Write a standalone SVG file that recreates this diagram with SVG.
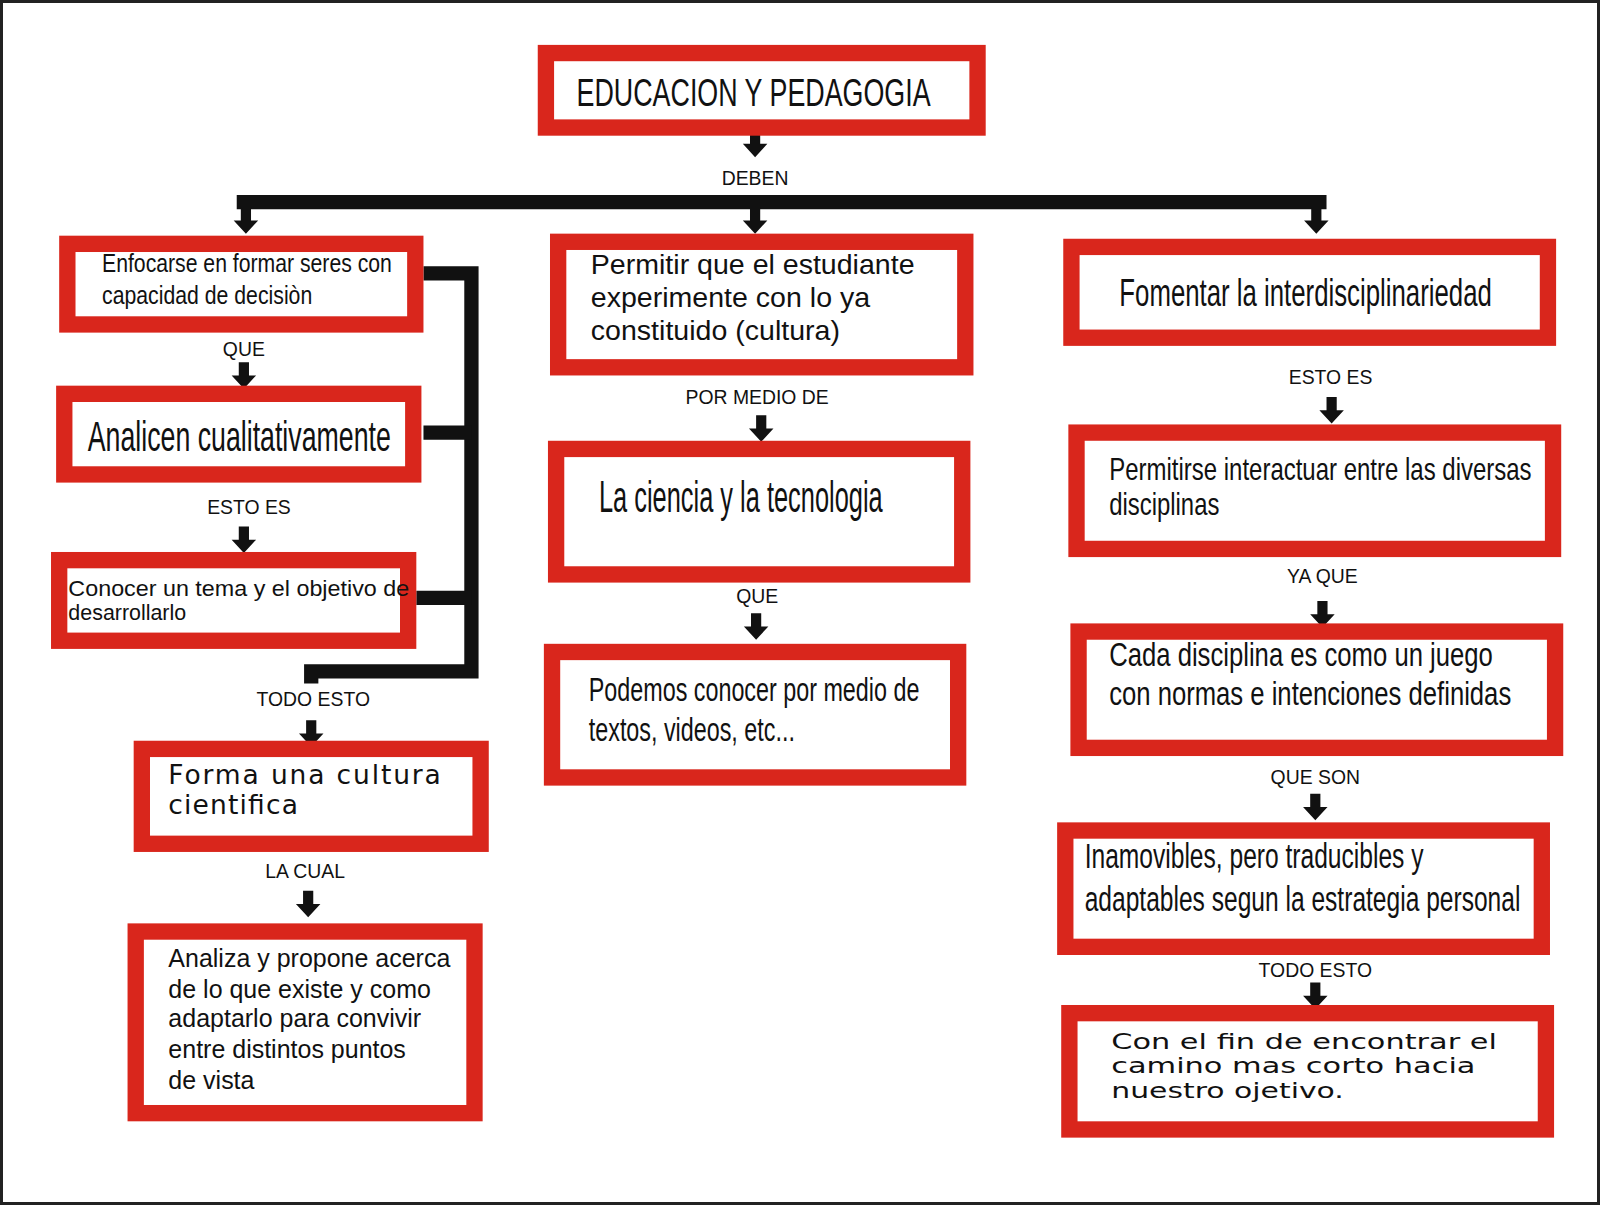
<svg xmlns="http://www.w3.org/2000/svg" xmlns:xlink="http://www.w3.org/1999/xlink" width="1600" height="1205" viewBox="0 0 1600 1205">
<style>
.box{fill:#fff;stroke:#d9261c;stroke-width:16}
.t{font-family:"Liberation Sans",Arial,sans-serif;fill:#111}
.lbl{font-family:"Liberation Sans",Arial,sans-serif;font-size:19px;fill:#111;text-anchor:middle}
.w{font-family:"DejaVu Sans",Verdana,sans-serif;fill:#111}
.ln{fill:none;stroke:#111;stroke-width:14}
</style>
<defs>
<path id="arr" d="M-5,0 H5 V13 H12 L0,26 L-12,13 H-5 Z" fill="#111"/>
</defs>
<rect x="0" y="0" width="1600" height="1205" fill="#fff"/>
<rect x="1.5" y="1.5" width="1597" height="1202" fill="none" stroke="#222" stroke-width="3"/>
<g transform="scale(1.0204,1.0203)">
<g id="connectors">
<polyline class="ln" points="232,198 1300,198"/>
<polyline class="ln" points="415,268 462,268 462,658 305,658 305,670"/>
<line class="ln" x1="415" y1="424" x2="462" y2="424"/>
<line class="ln" x1="408" y1="586" x2="462" y2="586"/>
<use href="#arr" x="740" y="128"/>
<use href="#arr" x="241" y="203"/>
<use href="#arr" x="740" y="203"/>
<use href="#arr" x="1290" y="203"/>
<use href="#arr" x="239" y="355"/>
<use href="#arr" x="239" y="516"/>
<use href="#arr" x="305" y="706"/>
<use href="#arr" x="302" y="873"/>
<use href="#arr" x="746" y="407"/>
<use href="#arr" x="741" y="601"/>
<use href="#arr" x="1305" y="389"/>
<use href="#arr" x="1296" y="589"/>
<use href="#arr" x="1289" y="778"/>
<use href="#arr" x="1289" y="963"/>
<text class="lbl" x="740" y="181">DEBEN</text>
<text class="lbl" x="239" y="349">QUE</text>
<text class="lbl" x="244" y="504">ESTO ES</text>
<text class="lbl" x="307" y="692">TODO ESTO</text>
<text class="lbl" x="299" y="861">LA CUAL</text>
<text class="lbl" x="742" y="396">POR MEDIO DE</text>
<text class="lbl" x="742" y="591">QUE</text>
<text class="lbl" x="1304" y="376">ESTO ES</text>
<text class="lbl" x="1296" y="571">YA QUE</text>
<text class="lbl" x="1289" y="768">QUE SON</text>
<text class="lbl" x="1289" y="958">TODO ESTO</text>
</g>
<g id="n-top"><rect class="box" x="535" y="52" width="423" height="73"/>
<text class="t" x="565" y="104" font-size="38" textLength="347" lengthAdjust="spacingAndGlyphs">EDUCACION Y PEDAGOGIA</text></g>
<g id="n-l1"><rect class="box" x="66" y="239" width="341" height="79"/>
<text class="t" x="100" y="267" font-size="26" textLength="284" lengthAdjust="spacingAndGlyphs">Enfocarse en formar seres con</text>
<text class="t" x="100" y="298" font-size="26" textLength="206" lengthAdjust="spacingAndGlyphs">capacidad de decisiòn</text></g>
<g id="n-l2"><rect class="box" x="63" y="386" width="342" height="79"/>
<text class="t" x="86" y="442" font-size="42" textLength="297" lengthAdjust="spacingAndGlyphs">Analicen cualitativamente</text></g>
<g id="n-l3"><rect class="box" x="58" y="549" width="342" height="79"/>
<text class="t" x="67" y="584" font-size="21" textLength="334" lengthAdjust="spacingAndGlyphs">Conocer un tema y el objetivo de</text>
<text class="t" x="67" y="608" font-size="21">desarrollarlo</text></g>
<g id="n-l4"><rect class="box" x="139" y="734" width="332" height="93"/>
<text class="w" x="165" y="768" font-size="26" textLength="267" lengthAdjust="spacing">Forma una cultura</text>
<text class="w" x="165" y="798" font-size="26" textLength="127" lengthAdjust="spacing">cientifica</text></g>
<g id="n-l5"><rect class="box" x="133" y="913" width="332" height="178"/>
<text class="t" font-size="24.5"><tspan x="165" y="948">Analiza y propone acerca</tspan><tspan x="165" y="978">de lo que existe y como</tspan><tspan x="165" y="1007">adaptarlo para convivir</tspan><tspan x="165" y="1037">entre distintos puntos</tspan><tspan x="165" y="1067">de vista</tspan></text></g>
<g id="n-m1"><rect class="box" x="547" y="237" width="399" height="123"/>
<text class="t" font-size="28"><tspan x="579" y="269">Permitir que el estudiante</tspan><tspan x="579" y="301">experimente con lo ya</tspan><tspan x="579" y="333">constituido (cultura)</tspan></text></g>
<g id="n-m2"><rect class="box" x="545" y="440" width="398" height="123"/>
<text class="t" x="587" y="502" font-size="44" textLength="278" lengthAdjust="spacingAndGlyphs">La ciencia y la tecnologia</text></g>
<g id="n-m3"><rect class="box" x="541" y="639" width="398" height="123"/>
<text class="t" x="577" y="687" font-size="32" textLength="324" lengthAdjust="spacingAndGlyphs">Podemos conocer por medio de</text>
<text class="t" x="577" y="726" font-size="32" textLength="202" lengthAdjust="spacingAndGlyphs">textos, videos, etc...</text></g>
<g id="n-r1"><rect class="box" x="1050" y="242" width="467" height="89"/>
<text class="t" x="1097" y="300" font-size="38" textLength="365" lengthAdjust="spacingAndGlyphs">Fomentar la interdisciplinariedad</text></g>
<g id="n-r2"><rect class="box" x="1055" y="424" width="467" height="114"/>
<text class="t" x="1087" y="470" font-size="30" textLength="414" lengthAdjust="spacingAndGlyphs">Permitirse interactuar entre las diversas</text>
<text class="t" x="1087" y="505" font-size="30" textLength="108" lengthAdjust="spacingAndGlyphs">disciplinas</text></g>
<g id="n-r3"><rect class="box" x="1057" y="619" width="467" height="114"/>
<text class="t" x="1087" y="653" font-size="32" textLength="376" lengthAdjust="spacingAndGlyphs">Cada disciplina es como un juego</text>
<text class="t" x="1087" y="691" font-size="32" textLength="394" lengthAdjust="spacingAndGlyphs">con normas e intenciones definidas</text></g>
<g id="n-r4"><rect class="box" x="1044" y="814" width="467" height="114"/>
<text class="t" x="1063" y="851" font-size="34" textLength="332" lengthAdjust="spacingAndGlyphs">Inamovibles, pero traducibles y</text>
<text class="t" x="1063" y="893" font-size="34" textLength="427" lengthAdjust="spacingAndGlyphs">adaptables segun la estrategia personal</text></g>
<g id="n-r5"><rect class="box" x="1048" y="993" width="467" height="114"/>
<text class="w" x="1089" y="1028" font-size="21" textLength="378" lengthAdjust="spacingAndGlyphs">Con el fin de encontrar el</text>
<text class="w" x="1089" y="1052" font-size="21" textLength="357" lengthAdjust="spacingAndGlyphs">camino mas corto hacia</text>
<text class="w" x="1089" y="1076" font-size="21" textLength="228" lengthAdjust="spacingAndGlyphs">nuestro ojetivo.</text></g>
</g>
</svg>
